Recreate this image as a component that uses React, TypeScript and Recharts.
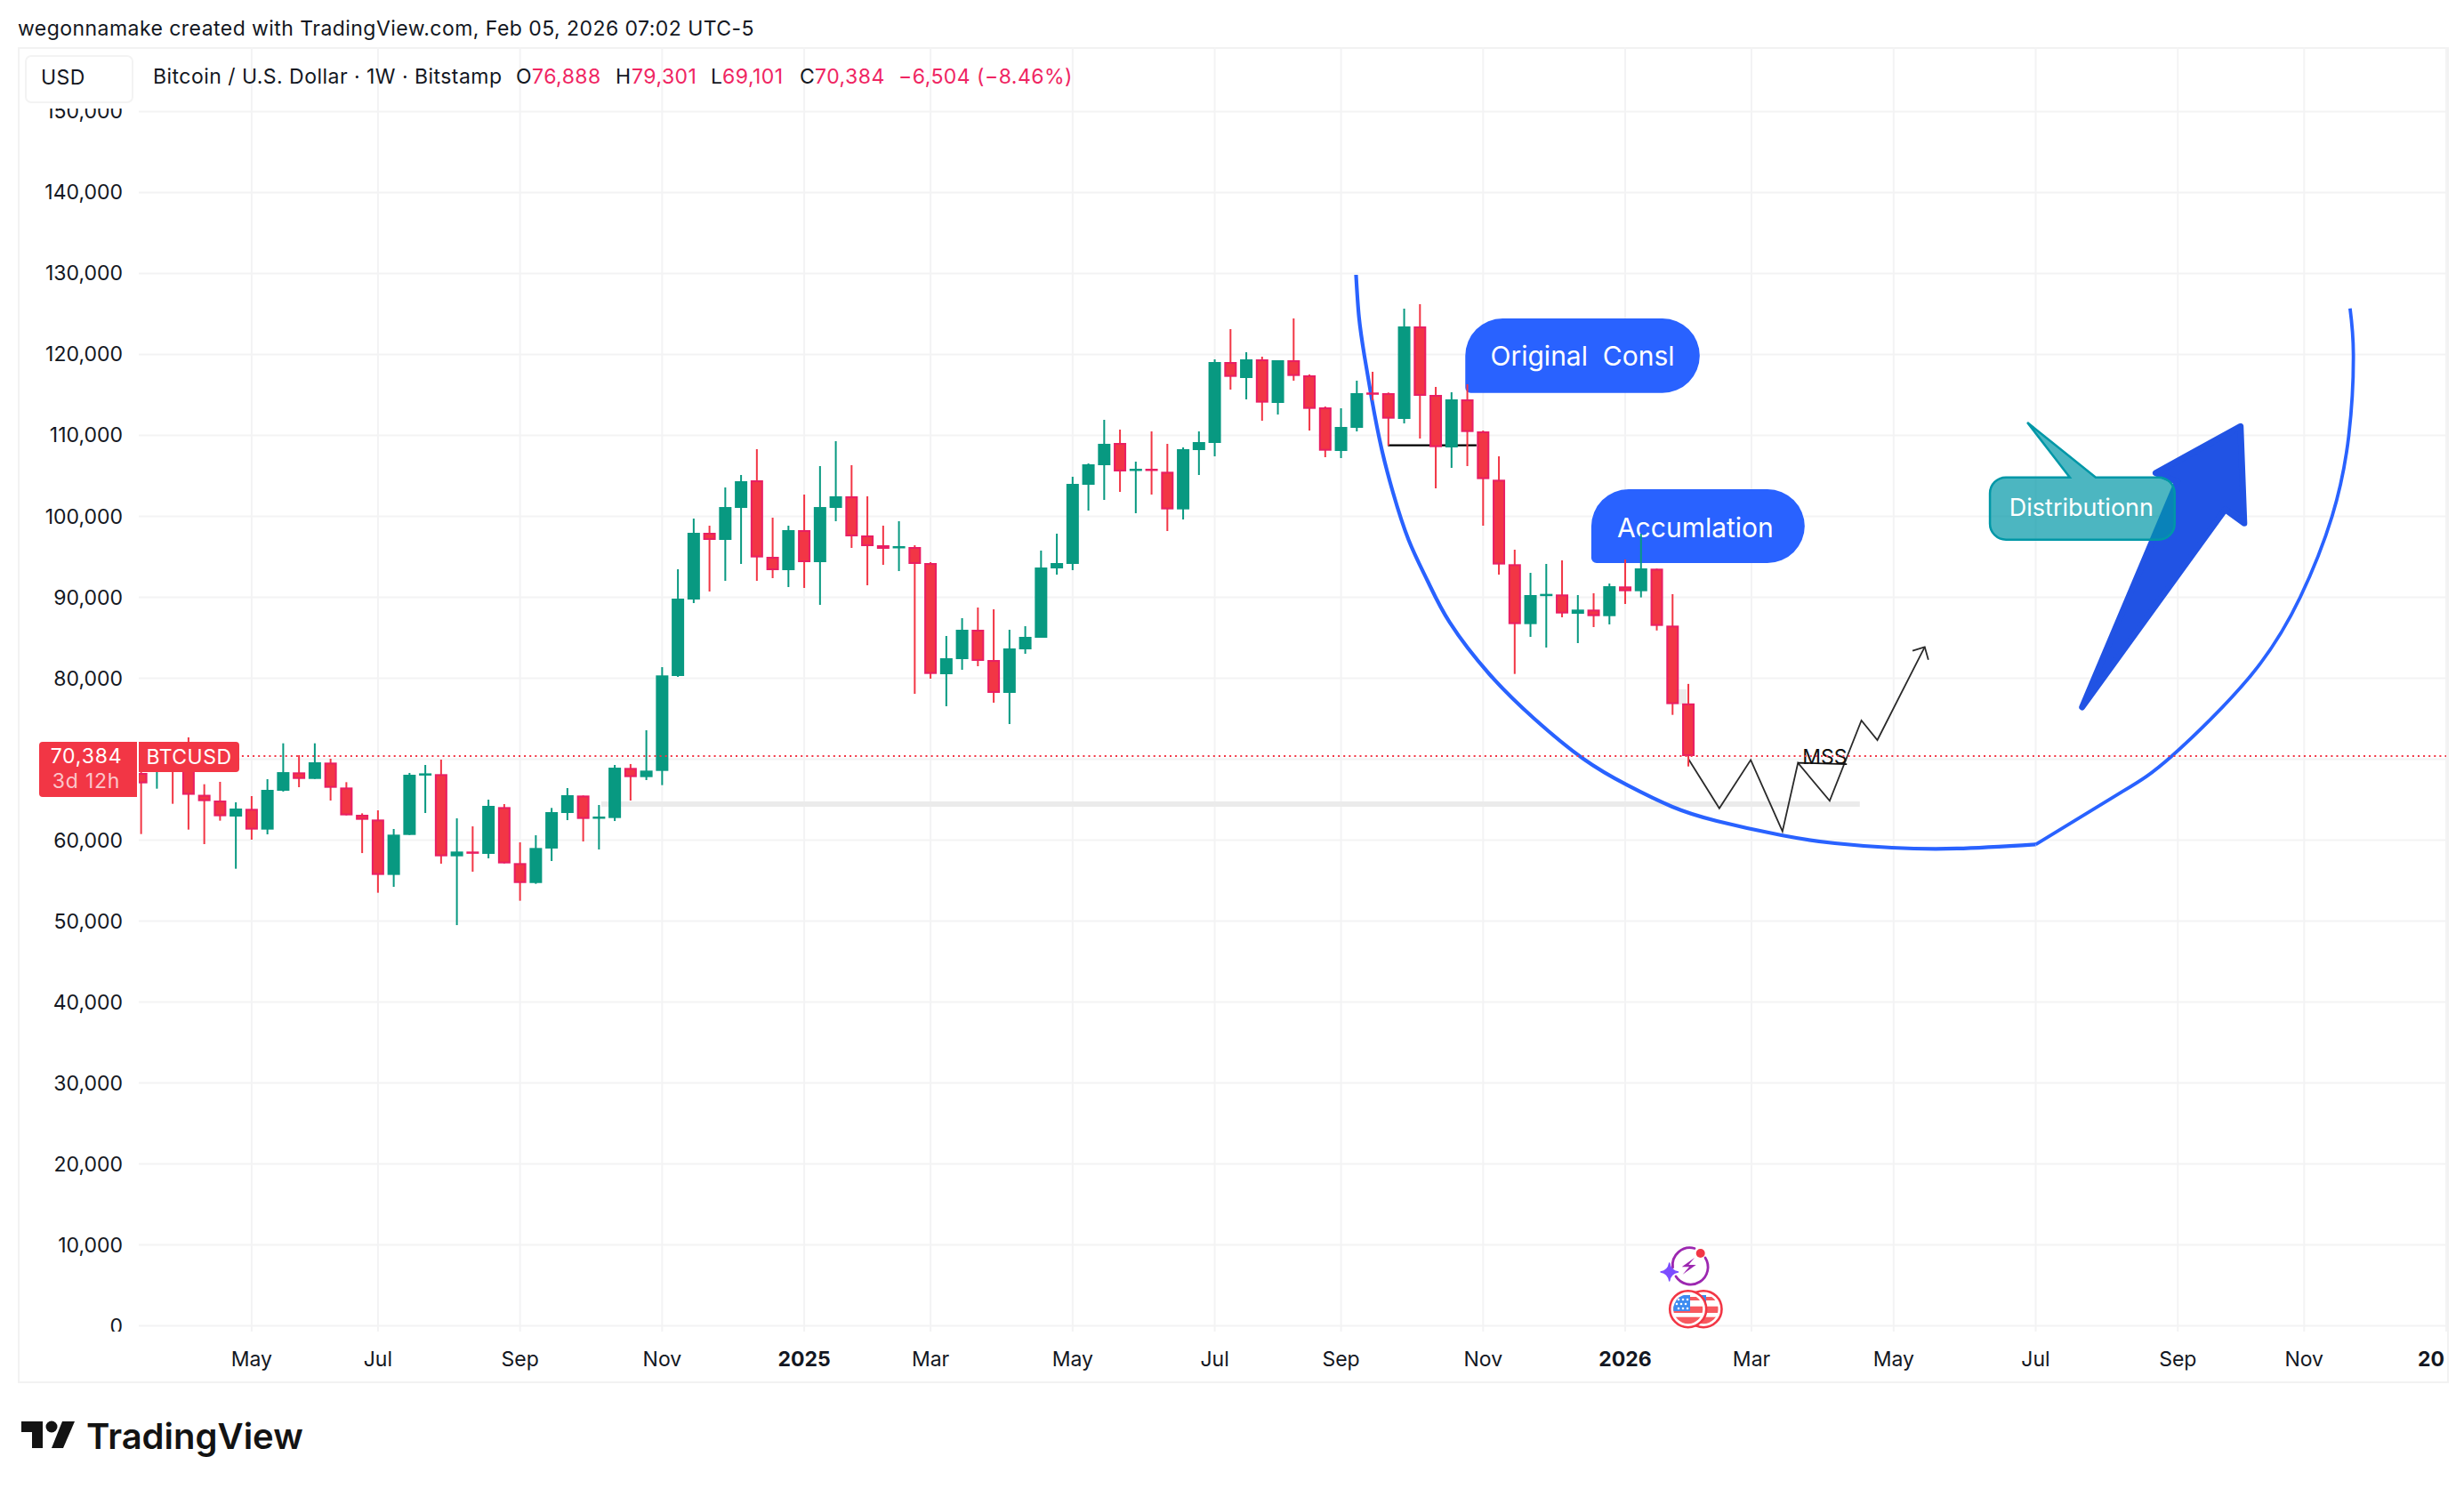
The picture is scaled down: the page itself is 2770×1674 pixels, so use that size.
import React from 'react';
import { ComposedChart, Bar, Line, XAxis, YAxis, CartesianGrid, ReferenceLine, ReferenceArea, ReferenceDot } from 'recharts';

const FONT = 'Inter, "Noto Sans", sans-serif';
const RED = '#f23645';
const RED_EDGE = '#e91e63';
const GREEN = '#089981';
const LEGEND_RED = '#ef2562';
const BLUE = '#2962ff';
const TEXT = '#131722';

const opens = [68300,69000,69500,69000,65600,64890,62913,63865,61300,66100,68370,67560,69580,66500,63130,62545,55700,60640,68150,68150,58000,58590,58300,64080,57160,54700,58960,63350,65510,62730,62730,68920,67785,68550,80275,89725,97967,97090,101040,104450,95000,93350,98300,94340,101040,102475,97640,96430,96140,96210,94230,80495,82360,85990,82250,78190,83570,85000,93570,94120,103900,106320,109066,105700,105880,105510,100860,108185,109066,119065,117090,119395,114010,119285,117420,113460,108075,110935,115300,115220,112035,123460,115000,108515,114450,110495,104525,94085,86685,90275,90350,87960,88480,87670,91340,90750,93535,86500,76888];
const highs = [70000,70500,70800,72692,66905,67200,64670,65440,67530,71960,70500,71960,70055,67160,63310,63680,61375,68300,69285,69945,62690,61700,65000,64450,59725,60600,63975,66430,65510,64340,69285,69400,73570,81370,93462,99725,98846,103570,105110,108300,99835,98846,102690,106210,109285,106320,102475,98850,99400,96430,94340,85220,87420,88736,88515,85990,86430,95770,97860,104890,106540,111925,110715,106760,110495,108955,108515,110495,119395,123130,120275,119725,119285,124450,117530,113570,113350,116760,117860,115300,125660,126210,115990,115330,116320,110600,107415,95880,93020,94120,94560,90275,90495,91700,94670,97860,93535,90385,79301];
const lows = [60750,66355,64487,61300,59505,62400,56465,60055,60715,66000,66540,67560,64890,63060,58400,53500,54230,60640,63350,57090,49500,56100,57750,57125,52510,54600,57420,62470,59835,58845,62360,64890,67420,66795,80165,89285,90715,92035,94120,92035,92365,91265,91155,89066,99400,96100,91485,94010,93240,78076,79945,76540,81045,81485,76980,74340,83020,85000,92800,93350,100715,102030,103020,100385,102690,98185,99615,105110,107415,115660,114450,111810,112580,116760,110600,107310,107200,110495,114340,108735,111485,109615,103460,105990,106210,98846,92800,80530,85110,83790,87530,84340,86320,86650,89175,89985,85900,75475,69101];
const closes = [67015,69500,69000,65600,64817,62950,63900,61300,66210,68400,67560,69615,66465,63060,62510,55700,60677,68075,68250,58000,58590,58370,64230,57125,54700,59030,63460,65550,62620,62910,68950,67785,68590,80350,89835,97967,97090,101150,104340,94925,93350,98300,94340,101150,102475,97530,96320,95990,96320,94121,80530,82470,85990,82145,78190,83680,85110,93680,94230,104010,106430,108960,105550,105880,105730,100860,108300,109175,119065,117235,119395,114050,119285,117345,113280,108110,111045,115220,115150,112070,123460,114890,108550,114450,110420,104600,94050,86685,90275,90420,88000,88480,87670,91370,90750,93570,86465,76800,70384];

const candles = opens.map((o, i) => ({ i, o, h: highs[i], l: lows[i], c: closes[i], range: [lows[i], highs[i]] }));

const xTickValues = [7, 15, 24, 33, 42, 50, 59, 68, 76, 85, 94, 102, 111, 120, 129, 137, 146];
const xTickLabels = ['May', 'Jul', 'Sep', 'Nov', '2025', 'Mar', 'May', 'Jul', 'Sep', 'Nov', '2026', 'Mar', 'May', 'Jul', 'Sep', 'Nov', '20'];
const boldLabels = ['2025', '2026', '20'];
const yTickValues = [0, 10000, 20000, 30000, 40000, 50000, 60000, 70000, 80000, 90000, 100000, 110000, 120000, 130000, 140000, 150000];

const LAST_CLOSE = 70384;

const arcLeft = [
  { i: 76.95, p: 129835 }, { i: 77.14, p: 124560 }, { i: 77.48, p: 119835 }, { i: 77.96, p: 114340 },
  { i: 78.55, p: 108515 }, { i: 79.28, p: 103020 }, { i: 80.28, p: 97090 }, { i: 81.48, p: 92030 },
  { i: 82.89, p: 86870 }, { i: 85.4, p: 80495 }, { i: 88.24, p: 75000 }, { i: 91.34, p: 70055 },
  { i: 94.16, p: 66760 }, { i: 96.98, p: 64120 }, { i: 99.8, p: 62360 }, { i: 103.9, p: 60600 },
  { i: 107.28, p: 59615 }, { i: 110.89, p: 59065 }, { i: 115.0, p: 58960 }, { i: 120.0, p: 59473 },
];
const arcRight = [
  { i: 120.0, p: 59473 }, { i: 125.33, p: 65802 }, { i: 128.62, p: 70385 },
  { i: 133.6, p: 80275 }, { i: 136.75, p: 90000 }, { i: 138.77, p: 100000 },
  { i: 139.83, p: 110000 }, { i: 140.12, p: 120000 }, { i: 139.91, p: 125690 },
];
const zigzag = [
  { i: 98.0, p: 70020 }, { i: 99.96, p: 63930 }, { i: 101.95, p: 69910 }, { i: 103.96, p: 61080 },
  { i: 104.94, p: 69540 }, { i: 106.95, p: 64860 }, { i: 108.96, p: 74780 }, { i: 109.97, p: 72360 },
  { i: 112.97, p: 83870 },
];
const arrowHead = [{ i: 112.2, p: 83385 }, { i: 112.97, p: 83870 }, { i: 113.2, p: 82285 }];
const mssLine = [{ i: 104.94, p: 69540 }, { i: 108.04, p: 69380 }];
const consolLine = [{ i: 78.97, p: 108770 }, { i: 84.58, p: 108770 }];
const supportLine = [{ i: 29.14, p: 64450 }, { i: 108.86, p: 64450 }];

const bigArrow = [
  { i: 122.94, p: 76430 }, { i: 128.97, p: 104264 }, { i: 127.6, p: 105363 },
  { i: 132.97, p: 111121 }, { i: 133.2, p: 99143 }, { i: 132.0, p: 100857 },
];
const bigArrowBox = { i1: 122.94, i2: 133.2, p1: 76430, p2: 111121 };
const originalBox = { i1: 83.87, i2: 98.72, p1: 115253, p2: 124451 };
const accumBox = { i1: 91.85, i2: 105.37, p1: 94231, p2: 103352 };
const distBox = { i1: 117.1, i2: 128.8, p1: 97121, p2: 104813 };
const distPointer = [{ i: 122.16, p: 104813 }, { i: 119.47, p: 111593 }, { i: 123.8, p: 104813 }];
const strayBox = { i1: 97.4, i2: 97.9, p1: 76760, p2: 78625 };

const Candle = (props: any) => {
  const { x, y, width, height, payload } = props;
  const { o, h, l, c } = payload;
  const yOf = (v: number) => y + ((h - v) / (h - l)) * height;
  const cx = x + width / 2;
  const up = c >= o;
  const top = yOf(Math.max(o, c));
  const bot = yOf(Math.min(o, c));
  const bh = Math.max(bot - top, 2.5);
  if (up) {
    return (
      <g>
        <rect x={cx - 1} y={y} width={2} height={height} fill={GREEN} />
        <rect x={cx - 7} y={top} width={14} height={bh} fill={GREEN} />
      </g>
    );
  }
  return (
    <g>
      <rect x={cx - 1} y={y} width={2} height={height} fill={RED} />
      {bh < 5 ? (
        <rect x={cx - 7} y={top} width={14} height={bh} fill={RED_EDGE} />
      ) : (
        <rect x={cx - 6} y={top + 1} width={12} height={bh - 2} fill={RED} stroke={RED_EDGE} strokeWidth={2} />
      )}
    </g>
  );
};

const roundedPath = (x: number, y: number, w: number, h: number, tl: number, tr: number, br: number, bl: number) =>
  `M${x + tl},${y} H${x + w - tr} A${tr},${tr} 0 0 1 ${x + w},${y + tr} V${y + h - br} A${br},${br} 0 0 1 ${x + w - br},${y + h} H${x + bl} A${bl},${bl} 0 0 1 ${x},${y + h - bl} V${y + tl} A${tl},${tl} 0 0 1 ${x + tl},${y} Z`;

const bubble = (label: string, fontSize: number, dx: number, dy: number) => (props: any) => {
  const { x, y, width, height } = props;
  return (
    <g>
      <path d={roundedPath(x, y, width, height, 42, 42, 42, 6)} fill={BLUE} />
      <text x={x + width / 2 + dx} y={y + height / 2 + 11 + dy} textAnchor="middle" fill="#fff" fontFamily={FONT} fontSize={fontSize} style={{ whiteSpace: 'pre' }}>{label}</text>
    </g>
  );
};

const mapper = (box: any, props: any) => (pt: any) => ({
  x: props.x + ((pt.i - box.i1) / (box.i2 - box.i1)) * props.width,
  y: props.y + ((box.p2 - pt.p) / (box.p2 - box.p1)) * props.height,
});

const ArrowShape = (props: any) => {
  const pts = bigArrow.map(mapper(bigArrowBox, props));
  return <polygon points={pts.map((q: any) => `${q.x},${q.y}`).join(' ')} fill="#2153e4" stroke="#2153e4" strokeWidth={7} strokeLinejoin="round" />;
};

const DistShape = (props: any) => {
  const { x, y, width, height } = props;
  const r = 18;
  const [a, tip, b] = distPointer.map(mapper(distBox, props));
  const d = `M${x + r},${y} H${a.x} L${tip.x},${tip.y} L${b.x},${y} H${x + width - r} A${r},${r} 0 0 1 ${x + width},${y + r} V${y + height - r} A${r},${r} 0 0 1 ${x + width - r},${y + height} H${x + r} A${r},${r} 0 0 1 ${x},${y + height - r} V${y + r} A${r},${r} 0 0 1 ${x + r},${y} Z`;
  return (
    <g>
      <path d={d} fill="rgba(0,151,167,0.7)" stroke="#0097a7" strokeWidth={2.5} />
      <text x={x + width / 2 - 1} y={y + height / 2 + 8} textAnchor="middle" fill="#fff" fontFamily={FONT} fontSize={27}>Distributionn</text>
    </g>
  );
};

const XTick = (props: any) => {
  const { x, payload } = props;
  const label = xTickLabels[xTickValues.indexOf(payload.value)];
  const bold = boldLabels.includes(label);
  return (
    <text x={label === '20' ? x - 2 : x} y={1536} textAnchor={label === '20' ? 'end' : 'middle'} fill={TEXT} fontFamily={FONT} fontSize={23} fontWeight={bold ? 700 : 400}>{label}</text>
  );
};

const YTick = (props: any) => {
  const { y, payload } = props;
  return (
    <text x={138} y={y + 8} textAnchor="end" fill={TEXT} fontFamily={FONT} fontSize={23} clipPath="url(#yLabelClip)">{payload.value.toLocaleString('en-US')}</text>
  );
};

const abs = (left: number, top: number, extra: any = {}): any => ({
  position: 'absolute', left, top, fontFamily: FONT, fontSize: 23, lineHeight: '28px', color: TEXT, whiteSpace: 'pre', ...extra,
});

const legendPieces = [
  { t: 'Bitcoin / U.S. Dollar · 1W · Bitstamp', x: 172, c: TEXT },
  { t: 'O', x: 580, c: TEXT }, { t: '76,888', x: 598, c: LEGEND_RED },
  { t: 'H', x: 692, c: TEXT }, { t: '79,301', x: 710, c: LEGEND_RED },
  { t: 'L', x: 799, c: TEXT }, { t: '69,101', x: 812, c: LEGEND_RED },
  { t: 'C', x: 899, c: TEXT }, { t: '70,384', x: 916, c: LEGEND_RED },
  { t: '−6,504 (−8.46%)', x: 1010, c: LEGEND_RED },
];

const lineCommon: any = { dataKey: 'p', dot: false, activeDot: false, isAnimationActive: false, legendType: 'none', tooltipType: 'none' };

export default function App() {
  return (
    <div style={{ position: 'absolute', left: 0, top: 0, width: 2770, height: 1674, background: '#fff', overflow: 'hidden' }}>
      <div style={{ position: 'absolute', left: 20, top: 53, width: 2729, height: 1498, border: '2px solid #f2f2f2' }} />
      <ComposedChart
        width={2770}
        height={1674}
        data={candles}
        margin={{ top: 54, right: 20, bottom: 121, left: 0 }}
        style={{ position: 'absolute', left: 0, top: 0 }}
      >
        <defs>
          <clipPath id="yLabelClip"><rect x={0} y={122} width={156} height={1375} /></clipPath>
        </defs>
        <CartesianGrid stroke="#f3f3f4" strokeWidth={2} syncWithTicks />
        <XAxis dataKey="i" type="number" domain={[-0.15, 146]} allowDataOverflow ticks={xTickValues} interval={0} height={56} axisLine={false} tickLine={false} tick={<XTick />} />
        <YAxis type="number" domain={[-714, 157857]} allowDataOverflow ticks={yTickValues} interval={0} width={156} axisLine={false} tickLine={false} tick={<YTick />} />

        <ReferenceArea x1={originalBox.i1} x2={originalBox.i2} y1={originalBox.p1} y2={originalBox.p2} ifOverflow="visible" shape={bubble('Original  Consl', 30, 0, 0)} />
        <ReferenceArea x1={accumBox.i1} x2={accumBox.i2} y1={accumBox.p1} y2={accumBox.p2} ifOverflow="visible" shape={bubble('Accumlation', 30, -3, 2)} />
        <ReferenceArea x1={strayBox.i1} x2={strayBox.i2} y1={strayBox.p1} y2={strayBox.p2} fill="#ebebeb" fillOpacity={1} stroke="none" />
        <ReferenceArea x1={bigArrowBox.i1} x2={bigArrowBox.i2} y1={bigArrowBox.p1} y2={bigArrowBox.p2} ifOverflow="visible" shape={ArrowShape} zIndex={500} />
        <ReferenceArea x1={distBox.i1} x2={distBox.i2} y1={distBox.p1} y2={distBox.p2} ifOverflow="visible" shape={DistShape} zIndex={510} />

        <Line {...lineCommon} data={supportLine} stroke="#ebebeb" strokeWidth={6} type="linear" />
        <Line {...lineCommon} data={arcLeft} stroke={BLUE} strokeWidth={4.2} type="natural" />
        <Line {...lineCommon} data={arcRight} stroke={BLUE} strokeWidth={3.8} type="natural" />
        <Line {...lineCommon} data={consolLine} stroke="#000" strokeWidth={2.2} type="linear" />
        <Line {...lineCommon} data={zigzag} stroke="#2a2a2a" strokeWidth={1.8} type="linear" />
        <Line {...lineCommon} data={arrowHead} stroke="#2a2a2a" strokeWidth={1.8} type="linear" />
        <Line {...lineCommon} data={mssLine} stroke="#111" strokeWidth={1.8} type="linear" />

        <Bar dataKey="range" barSize={14} isAnimationActive={false} shape={Candle} zIndex={700} />

        <ReferenceDot x={106.64} y={69396} r={0} ifOverflow="visible" zIndex={800}
          shape={(p: any) => <text x={p.cx} y={p.cy} textAnchor="middle" fill="#111" fontFamily={FONT} fontSize={23}>MSS</text>} />
        <ReferenceLine y={LAST_CLOSE} stroke={RED} strokeWidth={2} strokeDasharray="2 4.1" zIndex={900} />
      </ComposedChart>

      <div style={abs(20, 18, { letterSpacing: '0.45px' })}>wegonnamake created with TradingView.com, Feb 05, 2026 07:02 UTC-5</div>
      <div style={{ position: 'absolute', left: 28, top: 62, width: 118, height: 50, border: '2px solid #f3f3f3', borderRadius: 7, background: '#fff' }} />
      <div style={abs(46, 73, { letterSpacing: '0.45px' })}>USD</div>
      {legendPieces.map((p, k) => (
        <div key={k} style={abs(p.x, 72, { color: p.c, letterSpacing: '0.47px' })}>{p.t}</div>
      ))}

      <div style={{ position: 'absolute', left: 44, top: 834, width: 110, height: 62, background: RED, borderRadius: '4px 0 0 4px' }} />
      <div style={abs(44, 836, { width: 106, textAlign: 'center', color: '#fff', letterSpacing: '0.8px' })}>70,384</div>
      <div style={abs(44, 864, { width: 106, textAlign: 'center', color: 'rgba(255,255,255,0.72)', letterSpacing: '0.8px' })}>3d 12h</div>
      <div style={{ position: 'absolute', left: 156, top: 834, width: 113, height: 34, background: RED, borderRadius: '0 4px 4px 0' }} />
      <div style={abs(156, 837, { width: 113, textAlign: 'center', color: '#fff', letterSpacing: '0.5px' })}>BTCUSD</div>

      <svg width={2770} height={1674} style={{ position: 'absolute', left: 0, top: 0, pointerEvents: 'none' }}>
        <defs>
          <clipPath id="coinA"><circle cx={1897.7} cy={1471.7} r={16.5} /></clipPath>
          <clipPath id="coinB"><circle cx={1915} cy={1471.7} r={16.5} /></clipPath>
        </defs>
        <circle cx={1915} cy={1471.7} r={20.5} fill="#fff" stroke={RED} strokeWidth={2.6} />
        <g clipPath="url(#coinB)">
          <rect x={1898} y={1458} width={34} height={4} fill="#f7595f" />
          <rect x={1898} y={1468.7} width={34} height={7.3} fill="#f7595f" />
          <rect x={1898} y={1480.7} width={34} height={9} fill="#f7595f" />
          <rect x={1898} y={1456} width={20} height={18} fill="#3d8bf0" />
        </g>
        <circle cx={1897.7} cy={1471.7} r={20.5} fill="#fff" stroke={RED} strokeWidth={2.6} />
        <g clipPath="url(#coinA)">
          <rect x={1881} y={1458} width={34} height={4} fill="#f7595f" />
          <rect x={1881} y={1468.7} width={34} height={7.3} fill="#f7595f" />
          <rect x={1881} y={1480.7} width={34} height={9} fill="#f7595f" />
          <rect x={1881} y={1456} width={19} height={18} fill="#3d8bf0" />
        </g>
        {[[1887, 1461], [1892, 1461], [1897, 1461], [1885, 1466], [1890, 1466], [1895, 1466], [1887, 1471], [1892, 1471], [1897, 1471]].map(([a, b], k) => (
          <circle key={k} cx={a} cy={b} r={1.3} fill="#fff" />
        ))}
        <path d="M1905,1403.5 A19.5,19.5 0 0 0 1880.5,1425" fill="none" stroke="#9c27b0" strokeWidth={2.8} strokeLinecap="round" />
        <path d="M1917,1414 A19.5,19.5 0 0 1 1884,1435" fill="none" stroke="#9c27b0" strokeWidth={2.8} strokeLinecap="round" />
        <path d="M1905,1414 L1890.7,1424.3 H1899 L1891.7,1432.7 L1906.7,1422 H1898.3 Z" fill="#9c27b0" />
        <path d="M1876.7,1420 Q1878,1428.5 1886.5,1430 Q1878,1431.5 1876.7,1440 Q1875.4,1431.5 1867,1430 Q1875.4,1428.5 1876.7,1420 Z" fill="#7c4dff" stroke="#7c4dff" strokeWidth={1.5} strokeLinejoin="round" />
        <circle cx={1911.7} cy={1409} r={5} fill={RED} />
        <path d="M24,1598 H48 V1628 H36 V1610 H24 Z" fill="#131313" />
        <circle cx={58} cy={1604} r={6.5} fill="#131313" />
        <path d="M70,1598 H84 L71,1628 H58 Z" fill="#131313" />
      </svg>
      <div style={abs(97, 1592, { fontSize: 40, lineHeight: '46px', fontWeight: 600, color: '#131313', letterSpacing: '0px' })}>TradingView</div>
    </div>
  );
}
